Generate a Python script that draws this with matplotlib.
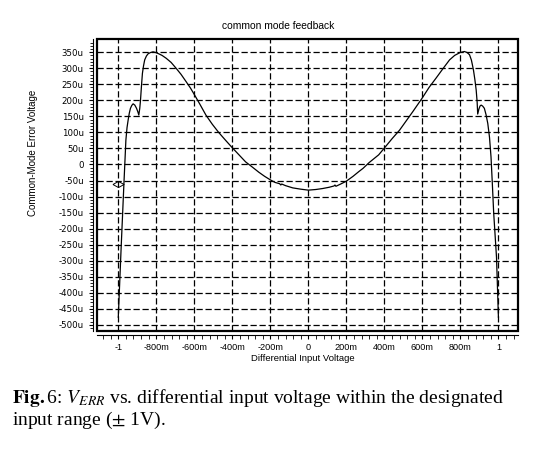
import numpy as np
import matplotlib
matplotlib.use('Agg')
import matplotlib.pyplot as plt
from matplotlib.patches import Rectangle

# differential input voltage (V) and common-mode error voltage (uV)
vin = [-1.0, -0.985, -0.970, -0.965, -0.960, -0.954, -0.948, -0.942, -0.936, -0.929,
       -0.922, -0.913, -0.904, -0.897, -0.892, -0.887, -0.883, -0.878, -0.873, -0.867,
       -0.861, -0.852, -0.843, -0.830, -0.817, -0.804, -0.791, -0.770, -0.748, -0.722,
       -0.696, -0.670, -0.643, -0.620, -0.600, -0.570, -0.539, -0.505, -0.472, -0.435,
       -0.400, -0.365, -0.330, -0.295, -0.261, -0.230, -0.200, -0.175, -0.151, -0.145,
       -0.140, -0.120, -0.082, -0.040, 0.0, 0.040, 0.075, 0.110, 0.135, 0.140,
       0.145, 0.170, 0.200, 0.235, 0.266, 0.288, 0.320, 0.370, 0.401, 0.440,
       0.480, 0.515, 0.550, 0.599, 0.635, 0.673, 0.710, 0.743, 0.770, 0.799,
       0.821, 0.835, 0.848, 0.858, 0.865, 0.869, 0.876, 0.883, 0.888, 0.891,
       0.897, 0.903, 0.909, 0.917, 0.926, 0.935, 0.944, 0.953, 0.961, 0.968,
       0.975, 0.990, 1.0]
verr = [-476, -260, -55, 10, 76, 115, 139, 160, 175, 184,
        189, 185, 175, 164, 154, 175, 201, 245, 284, 308,
        326, 338, 345, 349, 351, 349, 346, 340, 331, 318,
        300, 281, 258, 238, 218, 187, 154, 125, 100, 75,
        52, 30, 8, -8, -24, -37, -48, -56, -60, -64,
        -61, -66, -73, -77, -80, -78, -75, -71, -67, -64,
        -68, -61, -52, -37, -22, -12, 6, 30, 52, 80,
        107, 136, 165, 207, 240, 270, 300, 326, 340, 349,
        352, 349, 342, 325, 305, 293, 265, 232, 195, 157,
        172, 182, 185, 182, 175, 155, 128, 85, 24, -60,
        -150, -290, -476]

# cursor marker seen near the left edge
marker_x = [-1.0]
marker_y = [-60]

xticks = [-1.0, -0.8, -0.6, -0.4, -0.2, 0.0, 0.2, 0.4, 0.6, 0.8, 1.0]
xticklabels = ['-1', '-800m', '-600m', '-400m', '-200m', '0', '200m', '400m', '600m', '800m', '1']
yticks = [350, 300, 250, 200, 150, 100, 50, 0, -50, -100, -150, -200, -250,
          -300, -350, -400, -450, -500]
yticklabels = ['350u', '300u', '250u', '200u', '150u', '100u', '50u', '0', '-50u', '-100u',
               '-150u', '-200u', '-250u', '-300u', '-350u', '-400u', '-450u', '-500u']

plt.rcParams['mathtext.fontset'] = 'stix'

fig = plt.figure(figsize=(5.53, 4.51), dpi=100)
ax = fig.add_axes([0.1754, 0.2661, 0.7613, 0.6474])

ax.plot(vin, verr, color='black', lw=0.9)
diamond = [(-1, 0), (0, 0.55), (1, 0), (0, -0.55), (-1, 0)]
ax.plot(marker_x, marker_y, ls='none', marker=diamond, ms=8, mfc='none', mec='black', mew=0.7)

ax.set_xlim(-1.112, 1.103)
ax.set_ylim(-519, 391)

ax.set_xticks(np.arange(-1.08, 1.1, 0.04), minor=True)
ax.set_yticks(np.arange(-510, 390, 10), minor=True)

ax.grid(True, which='major', color='black', lw=0.9, ls=(0, (5, 2.2)))
ax.tick_params(which='both', direction='out', top=False, right=False, colors='black')
ax.tick_params(axis='y', which='major', length=3, pad=3.5)
ax.tick_params(axis='y', which='minor', length=2)
ax.tick_params(axis='x', which='major', length=3, pad=3)
ax.tick_params(axis='x', which='minor', length=3)

ax.set_xticks(xticks)
ax.set_xticklabels(xticklabels)
ax.set_yticks(yticks)
ax.set_yticklabels(yticklabels)
ax.tick_params(axis='x', labelsize=6.6, labelfontfamily='Liberation Sans')
ax.tick_params(axis='y', labelsize=6.2, labelfontfamily='DejaVu Sans')
for lbl in ax.get_yticklabels():
    lbl.set_fontweight('bold')

for side in ['top', 'right']:
    ax.spines[side].set_visible(False)
for side in ['left', 'bottom']:
    ax.spines[side].set_position(('outward', 3))
    ax.spines[side].set_linewidth(0.8)
ax.add_patch(Rectangle((0, 0), 1, 1, transform=ax.transAxes, fill=False,
                       ec='black', lw=1.6, clip_on=False, zorder=5))

fig.text(0.503, 0.942, 'common mode feedback', ha='center', va='center',
         fontsize=7.4, family='Liberation Sans')
fig.text(0.548, 0.204, 'Differential Input Voltage', ha='center', va='center',
         fontsize=6.8, family='Liberation Sans')
fig.text(0.06, 0.66, 'Common-Mode Error Voltage', ha='center', va='center',
         rotation=90, fontsize=7, family='Liberation Sans')

fig.text(0.0217, 0.1064, r'$\mathbf{Fig.}$6: $V_{ERR}$ vs. differential input voltage within the designated',
         ha='left', va='baseline', fontsize=14, family='Liberation Serif')
fig.text(0.0217, 0.0576, r'input range ($\pm$ 1V).',
         ha='left', va='baseline', fontsize=14, family='Liberation Serif')

fig.savefig('out.png', dpi=100, facecolor='white')
